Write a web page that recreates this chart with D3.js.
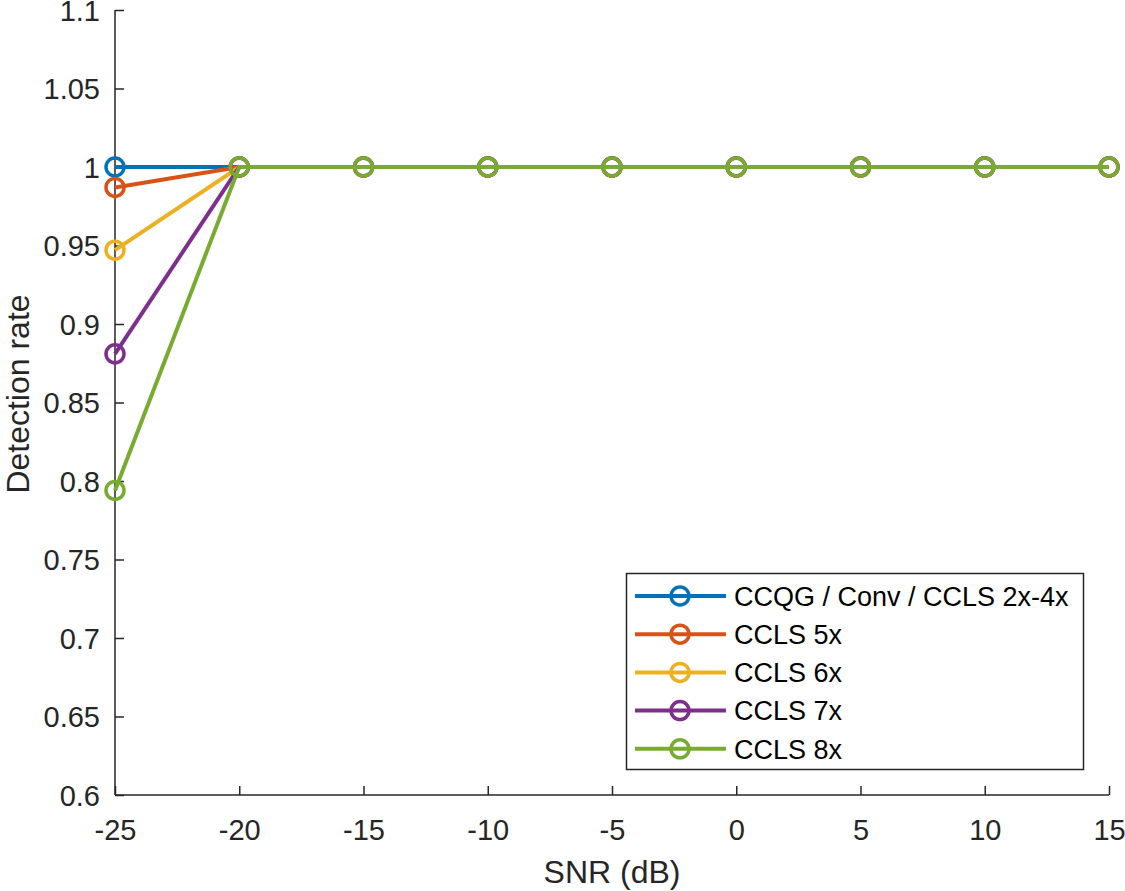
<!DOCTYPE html>
<html>
<head>
<meta charset="utf-8">
<script src="https://cdn.jsdelivr.net/npm/d3@7"></script>
<style>
  body { margin: 0; background: #fff; }
  text { font-family: "Liberation Sans", Arial, sans-serif; }
</style>
</head>
<body>
<div id="chart"></div>
<script>
'use strict';

var snr = [-25, -20, -15, -10, -5, 0, 5, 10, 15];
var seriesNames = ["CCQG / Conv / CCLS 2x-4x", "CCLS 5x", "CCLS 6x", "CCLS 7x", "CCLS 8x"];
var seriesColors = ["#0072BD", "#D95319", "#EDB120", "#7E2F8E", "#77AC30"];
var rateBase = [1, 1, 1, 1, 1, 1, 1, 1, 1];
var rate5x = [0.987, 1, 1, 1, 1, 1, 1, 1, 1];
var rate6x = [0.947, 1, 1, 1, 1, 1, 1, 1, 1];
var rate7x = [0.881, 1, 1, 1, 1, 1, 1, 1, 1];
var rate8x = [0.794, 1, 1, 1, 1, 1, 1, 1, 1];
var seriesValues = [rateBase, rate5x, rate6x, rate7x, rate8x];
var yTicks = [0.6, 0.65, 0.7, 0.75, 0.8, 0.85, 0.9, 0.95, 1, 1.05, 1.1];
var xTicks = [-25, -20, -15, -10, -5, 0, 5, 10, 15];

var drawChart = function () {
    var width = 1125, height = 891;
    var plotLeft = 115, plotRight = 1109, plotTop = 10, plotBottom = 795;
    var axisColor = "#262626";
    var tickFont = "29px", labelFont = "32px", legendFont = "27px";

    var svg = d3.select("#chart").append("svg")
        .attr("width", width)
        .attr("height", height);

    var x = d3.scaleLinear().domain([-25, 15]).range([plotLeft, plotRight]);
    var y = d3.scaleLinear().domain([0.6, 1.1]).range([plotBottom, plotTop]);

    // axes, ticks point inward like matlab
    var xAxis = svg.append("g")
        .attr("transform", "translate(0," + plotBottom + ")")
        .call(d3.axisBottom(x).tickValues(xTicks).tickSize(-9).tickPadding(24)
            .tickFormat(function (d) { return d; }));
    var yAxis = svg.append("g")
        .attr("transform", "translate(" + plotLeft + ",0)")
        .call(d3.axisLeft(y).tickValues(yTicks).tickSize(-9).tickPadding(15)
            .tickFormat(function (d) { return d; }));

    [xAxis, yAxis].forEach(function (g) {
        g.select(".domain").attr("stroke", axisColor).attr("stroke-width", 1.5);
        g.selectAll(".tick line").attr("stroke", axisColor).attr("stroke-width", 1.5);
        g.selectAll(".tick text")
            .attr("fill", axisColor)
            .style("font-size", tickFont)
            .style("font-family", "Liberation Sans, Arial, sans-serif");
    });
    xAxis.selectAll(".tick text").attr("dy", "0.71em");
    yAxis.selectAll(".tick text").attr("dy", "0.36em");
    xAxis.select(".domain").attr("d", "M" + plotLeft + ",0H" + plotRight);
    yAxis.select(".domain").attr("d", "M0," + plotBottom + "V" + plotTop);

    // axis labels
    svg.append("text")
        .attr("x", 612)
        .attr("y", 883)
        .attr("text-anchor", "middle")
        .attr("fill", axisColor)
        .style("font-size", labelFont)
        .text("SNR (dB)");

    svg.append("text")
        .attr("transform", "translate(29,394) rotate(-90)")
        .attr("text-anchor", "middle")
        .attr("fill", axisColor)
        .style("font-size", labelFont)
        .text("Detection rate");

    // lines and markers
    var line = d3.line()
        .x(function (d, i) { return x(snr[i]); })
        .y(function (d) { return y(d); });

    seriesValues.forEach(function (vals, k) {
        var g = svg.append("g");
        g.append("path")
            .datum(vals)
            .attr("d", line)
            .attr("fill", "none")
            .attr("stroke", seriesColors[k])
            .attr("stroke-width", 4);
        g.selectAll("circle")
            .data(vals)
            .enter()
            .append("circle")
            .attr("cx", function (d, i) { return x(snr[i]); })
            .attr("cy", function (d) { return y(d); })
            .attr("r", 9)
            .attr("fill", "none")
            .attr("stroke", seriesColors[k])
            .attr("stroke-width", 3.5);
    });

    // legend
    var legend = svg.append("g");
    legend.append("rect")
        .attr("x", 626.5)
        .attr("y", 573.5)
        .attr("width", 457)
        .attr("height", 196)
        .attr("fill", "#fff")
        .attr("stroke", axisColor)
        .attr("stroke-width", 1.5);

    var rowY = function (i) { return 596 + i * 38.2; };
    seriesNames.forEach(function (name, i) {
        legend.append("line")
            .attr("x1", 635).attr("x2", 726)
            .attr("y1", rowY(i)).attr("y2", rowY(i))
            .attr("stroke", seriesColors[i])
            .attr("stroke-width", 4);
        legend.append("circle")
            .attr("cx", 680).attr("cy", rowY(i))
            .attr("r", 9)
            .attr("fill", "none")
            .attr("stroke", seriesColors[i])
            .attr("stroke-width", 3.5);
        legend.append("text")
            .attr("x", 734)
            .attr("y", rowY(i))
            .attr("dy", "0.36em")
            .attr("fill", "#000")
            .style("font-size", legendFont)
            .text(name);
    });
};

drawChart();
</script>
</body>
</html>
